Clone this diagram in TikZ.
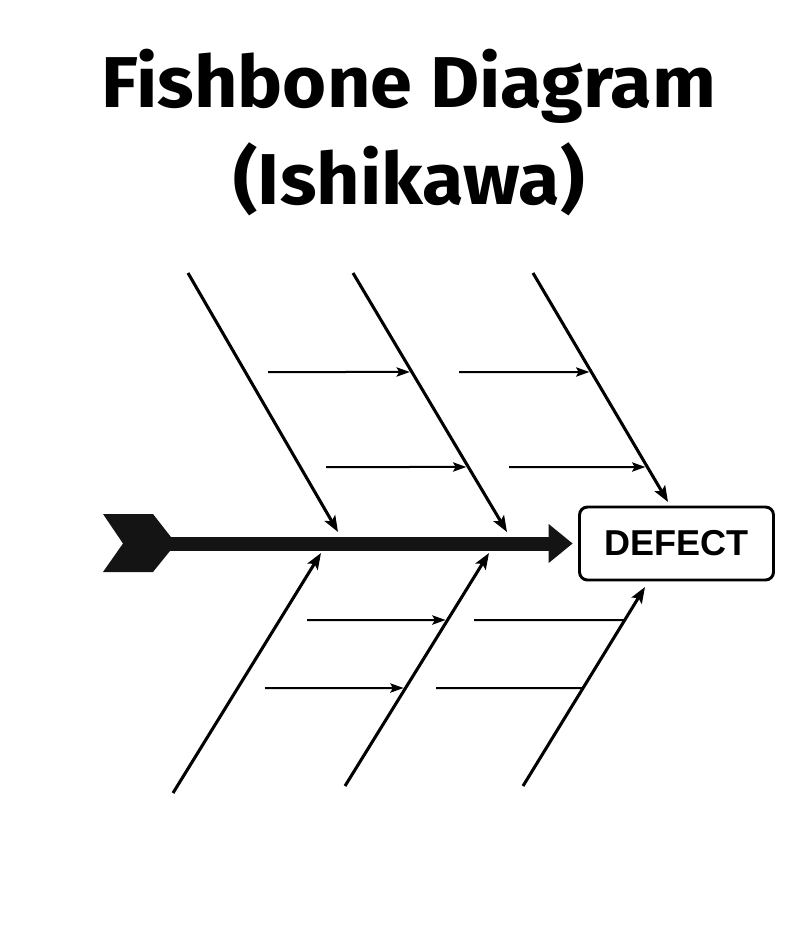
\documentclass[tikz,border=0pt]{standalone}
\usepackage{fontspec}
\setmainfont{Liberation Sans}
\newfontfamily\titlefont{Fira Sans}[FakeStretch=1.05]
\usetikzlibrary{arrows.meta, calc}

\begin{document}
\begin{tikzpicture}[
  x=0.75pt, y=-0.75pt,
  title/.style={anchor=base, font=\titlefont\bfseries\fontsize{54}{60}\selectfont},
  effect/.style={draw, line width=2.2pt, rounded corners=6pt, minimum width=145.5pt, minimum height=54.75pt, inner sep=0pt, font=\bfseries\fontsize{27}{30}\selectfont},
  spine/.style={line width=10.5pt, -{Triangle[length=18pt, width=28pt]}, shorten >=4pt},
  bone/.style={line width=2.3pt, -{Stealth[length=12pt, width=9pt, inset=2.5pt]}},
  rib/.style={line width=1.5pt, -{Stealth[length=10pt, width=7pt, inset=2pt]}, shorten >=1.5pt},
  plainrib/.style={line width=1.5pt}
]
\useasboundingbox (0,0) rectangle (794,932);

% title
\node[title] (t1) at (409,107) {Fishbone Diagram};
\node[title] (t2) at (409,204) {(Ishikawa)};

% head and tail
\node[effect] (defect) at (676.5,543.5) {\raisebox{-1pt}{DEFECT}};
\fill[black!92] (103,514) -- (153,514) -- (176,543.5) -- (153,572) -- (103,572) -- (123,543.5) -- cycle;
\coordinate (tail) at (170,543.5);
\draw[spine, black!92] (tail) -- (defect.west);

% main bones
\coordinate (b1s) at (188,273);  \coordinate (b1e) at (338,532);
\coordinate (b2s) at (353,273);  \coordinate (b2e) at (507,532);
\coordinate (b3s) at (533,273);  \coordinate (b3e) at (668,502);
\coordinate (b4s) at (173,793);  \coordinate (b4e) at (321,553);
\coordinate (b5s) at (345,786);  \coordinate (b5e) at (489,553);
\coordinate (b6s) at (523,786);  \coordinate (b6e) at (645,587);
\foreach \b in {1,...,6}
  \draw[bone] (b\b s) -- (b\b e);

% joints of the small ribs
\path (b2s) -- (b2e) coordinate[pos=.3822] (j1) coordinate[pos=.7490] (j3);
\path (b3s) -- (b3e) coordinate[pos=.4323] (j2) coordinate[pos=.8472] (j4);
\path (b5s) -- (b5e) coordinate[pos=.7124] (j5) coordinate[pos=.4206] (j7);
\path (b6s) -- (b6e) coordinate[pos=.8342] (j6) coordinate[pos=.4925] (j8);

\coordinate (r1) at (268,372);
\coordinate (r2) at (459,372);
\coordinate (r3) at (326,467);
\coordinate (r4) at (509,467);
\coordinate (r5) at (307,620);
\coordinate (r6) at (474,620);
\coordinate (r7) at (265,688);
\coordinate (r8) at (436,688);

\foreach \r in {1,2,3,4,5,7}
  \draw[rib] (r\r) -- (j\r);
\draw[plainrib] (r6) -- (j6);
\draw[plainrib] (r8) -- (j8);
\end{tikzpicture}
\end{document}
